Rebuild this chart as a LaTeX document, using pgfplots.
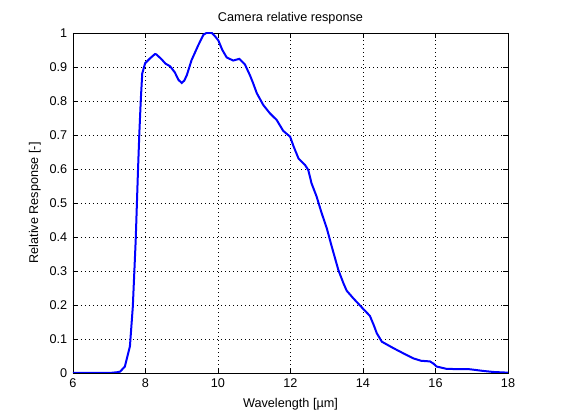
\documentclass[border=0pt]{standalone}
\usepackage{fontspec}
\setmainfont{Liberation Sans}
\usepackage{pgfplots}
\pgfplotsset{compat=1.18}
\begin{document}
\fontsize{9.5}{11}\selectfont
\begin{tikzpicture}
\begin{axis}[
  scale only axis,
  width=326.25pt, height=255pt,
  at={(0,0)}, anchor=south west,
  xmin=6, xmax=18, ymin=0, ymax=1,
  xtick={6,8,...,18},
  ytick={0,0.1,...,1},
  yticklabels={0,0.1,0.2,0.3,0.4,0.5,0.6,0.7,0.8,0.9,1},
  tick align=inside,
  major tick length=3.75pt,
  tick style={black, line width=0.5pt},
  axis line style={black, line width=0.5pt},
  grid=major,
  major grid style={black, line width=0.5pt, dash pattern=on 0.75pt off 2.25pt},
  /pgf/number format/assume math mode=true,
  ticklabel style={font=\fontsize{9.5}{11}\selectfont},
  xticklabel style={yshift=-1pt},
  yticklabel style={xshift=-1pt},
  title={Camera relative response},
  title style={font=\fontsize{9.5}{11}\selectfont, yshift=-3pt},
  xlabel={Wavelength [µm]},
  ylabel={Relative Response [-]},
  label style={font=\fontsize{9.5}{11}\selectfont},
  xlabel style={yshift=-1pt},
  ylabel style={yshift=0pt},
]
\addplot[color={rgb,255:red,0;green,0;blue,255}, line width=1.5pt] coordinates {
(6,0) (7.0,0) (7.2,0.002) (7.30,0.004) (7.43,0.019) (7.57,0.078) (7.65,0.195)
(7.69,0.293) (7.73,0.391) (7.76,0.489) (7.79,0.587) (7.83,0.705) (7.87,0.803)
(7.91,0.881) (7.99,0.911) (8.12,0.925) (8.26,0.938) (8.30,0.937) (8.45,0.922) (8.55,0.91)
(8.68,0.902) (8.81,0.884) (8.91,0.862) (9.0,0.853) (9.07,0.86) (9.14,0.876)
(9.27,0.92) (9.46,0.965) (9.6,0.995) (9.68,1.0) (9.83,1.0) (9.92,0.99)
(10.01,0.978) (10.12,0.95) (10.24,0.928) (10.42,0.919) (10.59,0.924) (10.74,0.908)
(10.88,0.876) (10.97,0.852) (11.07,0.823) (11.25,0.788) (11.43,0.764) (11.62,0.744)
(11.80,0.712) (11.99,0.695) (12.08,0.668) (12.22,0.631) (12.40,0.612) (12.49,0.597)
(12.58,0.558) (12.72,0.519) (12.86,0.47) (13.0,0.426) (13.14,0.371) (13.32,0.303)
(13.46,0.264) (13.55,0.242) (13.73,0.22) (14.01,0.188) (14.19,0.168) (14.3,0.14)
(14.38,0.117) (14.52,0.092) (14.84,0.073) (15.11,0.058) (15.39,0.043) (15.6,0.036)
(15.85,0.034) (15.95,0.027) (16.03,0.019) (16.31,0.012) (16.95,0.011) (17.32,0.006)
(17.6,0.003) (18,0.001)
};
\end{axis}
\path[use as bounding box] (-54.75pt,-35.25pt) rectangle (366pt,279.75pt);
\end{tikzpicture}
\end{document}
